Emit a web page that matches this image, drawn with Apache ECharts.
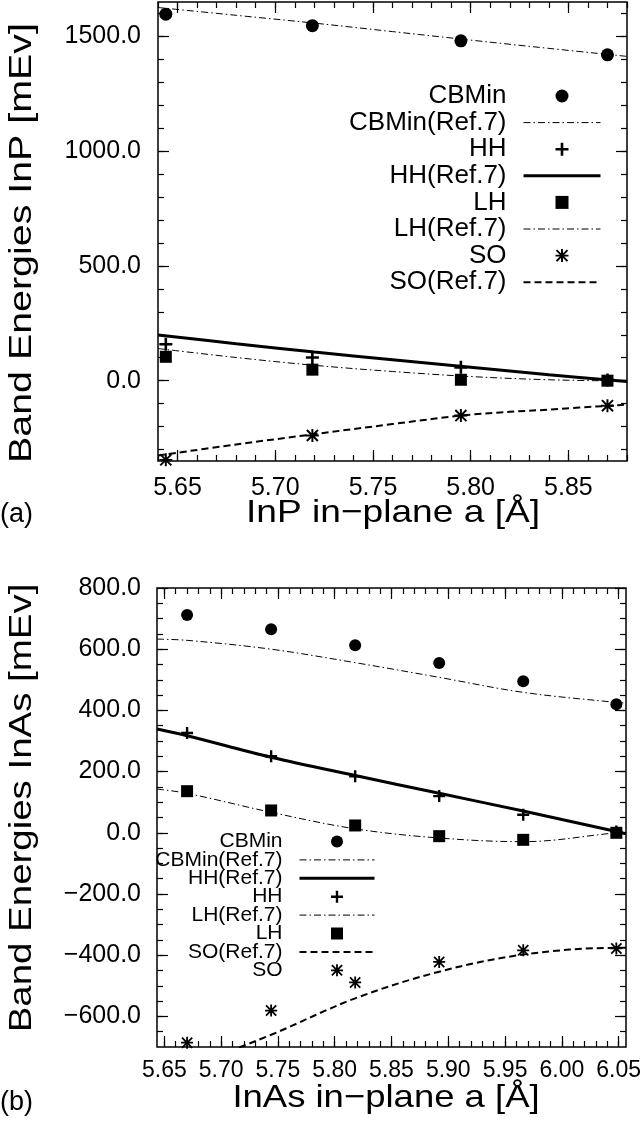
<!DOCTYPE html>
<html>
<head>
<meta charset="utf-8">
<script src="https://cdn.jsdelivr.net/npm/echarts@6/dist/echarts.min.js"></script>
<style>
html, body { margin: 0; padding: 0; background: #fff; }
#chart { width: 640px; height: 1131px; }
</style>
</head>
<body>
<div id="chart"></div>
<script>
// ---- (a) InP: computed points
const inpX = [5.644, 5.719, 5.795, 5.870];
const inpCB = [1597, 1547, 1481, 1420];
const inpHH = [159, 101, 58, 3];
const inpLH = [104, 48, 4, 0];
const inpSO = [-345, -239, -152, -109];
// (a) Ref.7 curves
const inpRefX = [5.64, 5.68, 5.72, 5.76, 5.80, 5.84, 5.88];
const inpCBRef = [1626, 1592, 1558, 1521, 1484, 1448, 1413];
const inpHHRef = [199, 161, 125, 91, 58, 26, -4];
const inpLHRef = [140, 101, 67, 40, 18, 4, -2];
const inpSORef = [-326, -278, -233, -189, -148, -126, -104];

// ---- (b) InAs: computed points
const inasX = [5.670, 5.744, 5.818, 5.892, 5.966, 6.048];
const inasCB = [712, 665, 613, 555, 495, 420];
const inasHH = [326, 250, 185, 120, 59, 4];
const inasLH = [136, 73, 24, -11, -23, 0];
const inasSO = [-686, -581, -489, -422, -384, -378];
// (b) Ref.7 curves
const inasRefX = [5.6435, 5.670, 5.744, 5.818, 5.892, 5.966, 6.048, 6.0565];
const inasCBRef = [633, 629, 600, 556, 508, 459, 426, 424];
const inasHHRef = [339, 317, 247, 187, 129, 71, 4, -3];
const inasLHRef = [143, 129, 67, 13, -17, -29, 0, 2];
const inasSORef = [-805, -767, -660, -541, -454, -398, -376, -376];

// ---- tick labels
const inpXTicks = [5.65, 5.70, 5.75, 5.80, 5.85];
const inpYTicks = [0, 500, 1000, 1500];
const inasXTicks = [5.65, 5.70, 5.75, 5.80, 5.85, 5.90, 5.95, 6.00, 6.05];
const inasYTicks = [-600, -400, -200, 0, 200, 400, 600, 800];

const FONT = "'Liberation Sans', Arial, Helvetica, sans-serif";
const PLUS = 'path://M8,0H12V8H20V12H12V20H8V12H0V8H8Z';
const STAR = 'path://M8.5,0H11.5V20H8.5Z M0,8.5H20V11.5H0Z ' +
    'M2.56,0.44L19.56,17.44L17.44,19.56L0.44,2.56Z M17.44,0.44L19.56,2.56L2.56,19.56L0.44,17.44Z';
const SQUARE = 'path://M0,0H10V10H0Z';
const DASHDOT = [7, 3, 1.5, 3];

function steps(a, b, d) {
    let out = [];
    for (let v = a; v <= b + d / 2; v += d) out.push(Math.round(v * 1000) / 1000);
    return out;
}
function zip(xs, ys) { return xs.map((x, i) => [x, ys[i]]); }
const minus = s => s.replace('-', '\u2212');

// four axes per side pair: labelled major, minor, mirrored major, mirrored minor
function axes(g, min, max, major, minor, pos, label) {
    let base = {
        type: 'value', gridIndex: g, min: min, max: max,
        axisLine: { show: false, onZero: false },
        splitLine: { show: false }
    };
    let tick = (vals, len) => ({
        show: true, inside: true, length: len, customValues: vals,
        lineStyle: { color: '#000', width: 1.2 }
    });
    return [
        Object.assign({}, base, { position: pos[0], axisTick: tick(major, 11), axisLabel: label }),
        Object.assign({}, base, { position: pos[0], axisTick: tick(minor, 6), axisLabel: { show: false } }),
        Object.assign({}, base, { position: pos[1], axisTick: tick(major, 11), axisLabel: { show: false } }),
        Object.assign({}, base, { position: pos[1], axisTick: tick(minor, 6), axisLabel: { show: false } })
    ];
}
function lbl(vals, size, margin, digits) {
    return {
        show: true, customValues: vals, fontSize: size, fontFamily: FONT, color: '#000', margin: margin,
        formatter: v => minus(Number(v).toFixed(digits))
    };
}

function points(name, xs, ys, g, symbol, size) {
    return {
        name: name, type: 'scatter', xAxisIndex: g * 4, yAxisIndex: g * 4,
        data: zip(xs, ys), symbol: symbol, symbolSize: size,
        itemStyle: { color: '#000', opacity: 1 }, z: 3
    };
}
function curve(name, xs, ys, g, width, type) {
    return {
        name: name, type: 'line', xAxisIndex: g * 4, yAxisIndex: g * 4,
        data: zip(xs, ys), symbol: 'none', smooth: 0.35, clip: true,
        lineStyle: { color: '#000', width: width, type: type },
        itemStyle: { color: '#000' }
    };
}
function refItem(name, width, type) {
    return { name: name, itemStyle: { opacity: 0 }, lineStyle: { width: width, type: type } };
}

let chart = echarts.init(document.getElementById('chart'));

let option = {
    backgroundColor: '#fff',
    animation: false,
    grid: [
        { left: 158, top: 2, width: 469, height: 459, show: true, borderColor: '#000', borderWidth: 1.5, outerBoundsMode: 'none' },
        { left: 157, top: 588, width: 469, height: 459, show: true, borderColor: '#000', borderWidth: 1.5, outerBoundsMode: 'none' }
    ],
    xAxis: [].concat(
        axes(0, 5.64, 5.88, inpXTicks, steps(5.64, 5.88, 0.01), ['bottom', 'top'], lbl(inpXTicks, 25, 15, 2)),
        axes(1, 5.6435, 6.0565, inasXTicks, steps(5.65, 6.05, 0.01), ['bottom', 'top'], lbl(inasXTicks, 23, 12, 2))
    ),
    yAxis: [].concat(
        axes(0, -350, 1650, inpYTicks, steps(-300, 1600, 100), ['left', 'right'], lbl(inpYTicks, 25, 17, 1)),
        axes(1, -700, 800, inasYTicks, steps(-650, 750, 50), ['left', 'right'], lbl(inasYTicks, 25, 16, 1))
    ),
    legend: [
        {
            orient: 'vertical', align: 'right', right: 33, top: 78,
            itemWidth: 77, itemHeight: 13, itemGap: 0.6, selectedMode: false,
            textStyle: { fontSize: 26, fontFamily: FONT, color: '#000', padding: [0, 12, 0, 0] },
            data: [
                'CBMin', refItem('CBMin(Ref.7)', 1, DASHDOT),
                'HH', refItem('HH(Ref.7)', 3, 'solid'),
                'LH', refItem('LH(Ref.7)', 1, DASHDOT),
                'SO', refItem('SO(Ref.7)', 2, [7, 4])
            ]
        },
        {
            orient: 'vertical', align: 'right', right: 259, top: 826,
            itemWidth: 75, itemHeight: 12, itemGap: -2.6, selectedMode: false,
            textStyle: { fontSize: 21, fontFamily: FONT, color: '#000', padding: [0, 12, 0, 0] },
            data: [
                'CBMin', refItem('CBMin(Ref.7)', 1, DASHDOT),
                refItem('HH(Ref.7)', 3, 'solid'), 'HH',
                refItem('LH(Ref.7)', 1, DASHDOT), 'LH',
                refItem('SO(Ref.7)', 2, [7, 4]), 'SO'
            ]
        }
    ],
    graphic: [
        { type: 'text', x: 22, y: 243, rotation: Math.PI / 2, scaleX: 1.27,
          style: { text: 'Band Energies InP [mEv]', fontSize: 31, fontFamily: FONT, fill: '#000', align: 'center', verticalAlign: 'middle' } },
        { type: 'text', x: 22, y: 808, rotation: Math.PI / 2, scaleX: 1.24,
          style: { text: 'Band Energies InAs [mEv]', fontSize: 31, fontFamily: FONT, fill: '#000', align: 'center', verticalAlign: 'middle' } },
        { type: 'text', x: 393, y: 513, scaleX: 1.16,
          style: { text: 'InP in\u2212plane a [\u00c5]', fontSize: 32, fontFamily: FONT, fill: '#000', align: 'center', verticalAlign: 'middle' } },
        { type: 'text', x: 386, y: 1098, scaleX: 1.14,
          style: { text: 'InAs in\u2212plane a [\u00c5]', fontSize: 32, fontFamily: FONT, fill: '#000', align: 'center', verticalAlign: 'middle' } },
        { type: 'text', x: 0, y: 515,
          style: { text: '(a)', fontSize: 27, fontFamily: FONT, fill: '#000', align: 'left', verticalAlign: 'middle' } },
        { type: 'text', x: 0, y: 1103,
          style: { text: '(b)', fontSize: 27, fontFamily: FONT, fill: '#000', align: 'left', verticalAlign: 'middle' } }
    ],
    series: [
        points('CBMin', inpX, inpCB, 0, 'circle', 13),
        curve('CBMin(Ref.7)', inpRefX, inpCBRef, 0, 1, DASHDOT),
        points('HH', inpX, inpHH, 0, PLUS, 13),
        curve('HH(Ref.7)', inpRefX, inpHHRef, 0, 3, 'solid'),
        points('LH', inpX, inpLH, 0, SQUARE, 12),
        curve('LH(Ref.7)', inpRefX, inpLHRef, 0, 1, DASHDOT),
        points('SO', inpX, inpSO, 0, STAR, 13),
        curve('SO(Ref.7)', inpRefX, inpSORef, 0, 2, [7, 4]),

        points('CBMin', inasX, inasCB, 1, 'circle', 12),
        curve('CBMin(Ref.7)', inasRefX, inasCBRef, 1, 1, DASHDOT),
        points('HH', inasX, inasHH, 1, PLUS, 12),
        curve('HH(Ref.7)', inasRefX, inasHHRef, 1, 3, 'solid'),
        points('LH', inasX, inasLH, 1, SQUARE, 12),
        curve('LH(Ref.7)', inasRefX, inasLHRef, 1, 1, DASHDOT),
        points('SO', inasX, inasSO, 1, STAR, 12),
        curve('SO(Ref.7)', inasRefX, inasSORef, 1, 2, [7, 4])
    ]
};

chart.setOption(option);
</script>
</body>
</html>
